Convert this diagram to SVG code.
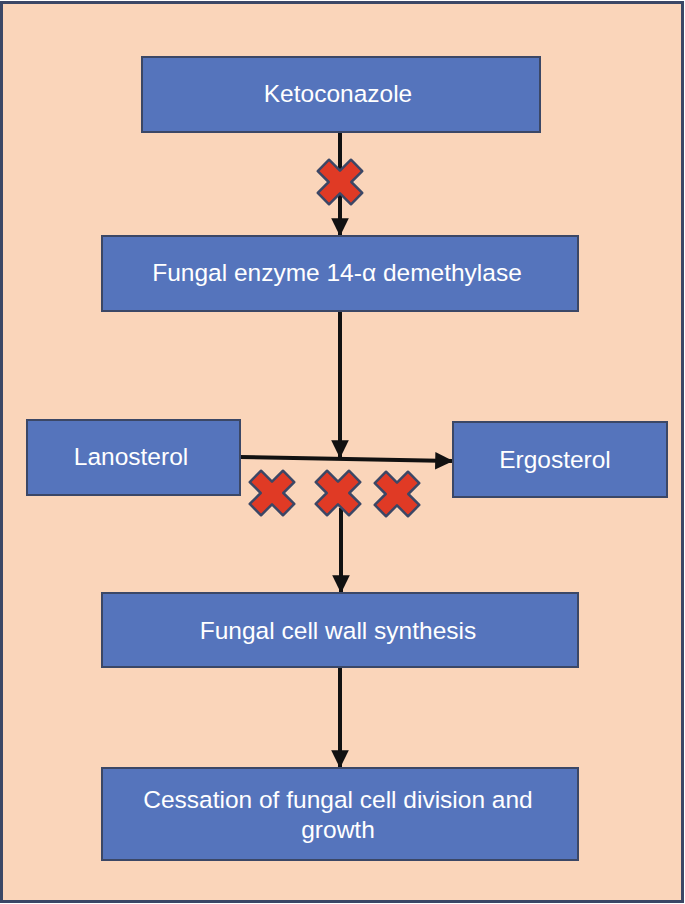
<svg xmlns="http://www.w3.org/2000/svg" width="685" height="904" viewBox="0 0 685 904">
<defs>
<style>
.box{fill:#5574BC;stroke:#3B4766;stroke-width:2}
.t{fill:#fff;font-family:"Liberation Sans",Arial,sans-serif;font-size:24.5px;text-anchor:middle}
.ln{stroke:#111;stroke-width:4;fill:none}
.x{fill:#E03A25;stroke:#3B4766;stroke-width:2.5;stroke-linejoin:round}
</style>
<marker id="ah" markerWidth="5" markerHeight="5" refX="4.2" refY="2.5" orient="auto" markerUnits="strokeWidth">
<path d="M0,0.3 L4.5,2.5 L0,4.7 Z" fill="#111"/>
</marker>
<symbol id="xs" viewBox="-24 -24 48 48" overflow="visible">
<path class="x" transform="rotate(45)" d="M-8,-23.5 H8 V-8 H23.5 V8 H8 V23.5 H-8 V8 H-23.5 V-8 H-8 Z"/>
</symbol>
</defs>
<rect x="1.5" y="2.5" width="681" height="899" fill="#FAD5BA" stroke="#3B4766" stroke-width="3"/>
<g id="connectors">
<line class="ln" x1="340" y1="132" x2="340" y2="235" marker-end="url(#ah)"/>
<line class="ln" x1="340" y1="311" x2="340" y2="457" marker-end="url(#ah)"/>
<line class="ln" x1="240" y1="457" x2="452" y2="461" marker-end="url(#ah)"/>
<line class="ln" x1="341" y1="508" x2="341" y2="592" marker-end="url(#ah)"/>
<line class="ln" x1="340" y1="667" x2="340" y2="767" marker-end="url(#ah)"/>
</g>
<g id="cross1"><use href="#xs" x="316" y="158" width="48" height="48"/></g>
<g id="cross2"><use href="#xs" x="248" y="469" width="48" height="48"/></g>
<g id="cross3"><use href="#xs" x="314" y="469" width="48" height="48"/></g>
<g id="cross4"><use href="#xs" x="373" y="470" width="48" height="48"/></g>
<g id="ketoconazole"><rect class="box" x="142" y="57" width="398" height="75"/><text class="t" x="338" y="102">Ketoconazole</text></g>
<g id="enzyme"><rect class="box" x="102" y="236" width="476" height="75"/><text class="t" x="337" y="281">Fungal enzyme 14-α demethylase</text></g>
<g id="lanosterol"><rect class="box" x="27" y="420" width="213" height="75"/><text class="t" x="131" y="465">Lanosterol</text></g>
<g id="ergosterol"><rect class="box" x="453" y="422" width="214" height="75"/><text class="t" x="555" y="468">Ergosterol</text></g>
<g id="cellwall"><rect class="box" x="102" y="593" width="476" height="74"/><text class="t" x="338" y="639">Fungal cell wall synthesis</text></g>
<g id="cessation"><rect class="box" x="102" y="768" width="476" height="92"/><text class="t" x="338" y="808">Cessation of fungal cell division and</text><text class="t" x="338" y="838">growth</text></g>
</svg>
